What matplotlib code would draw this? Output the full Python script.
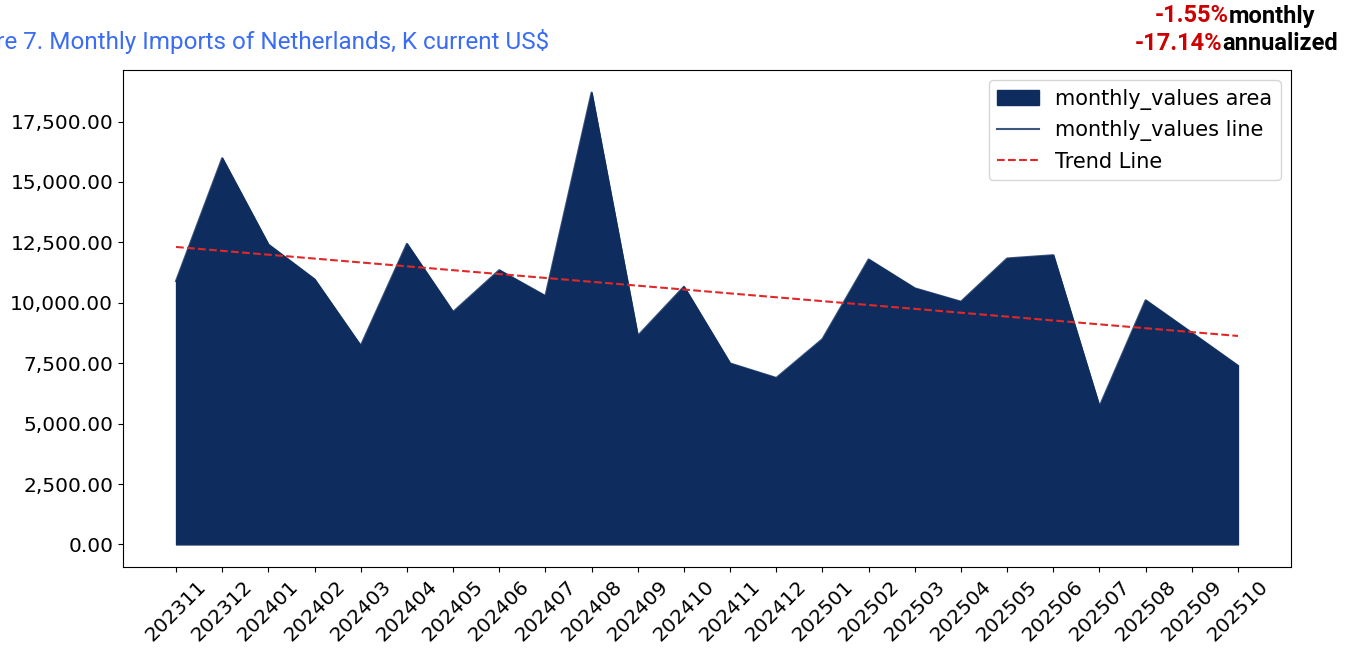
import numpy as np
import matplotlib.pyplot as plt

# ================================================    Data    ================================================
months = ["202311", "202312", "202401", "202402", "202403", "202404", "202405", "202406",
          "202407", "202408", "202409", "202410", "202411", "202412", "202501", "202502",
          "202503", "202504", "202505", "202506", "202507", "202508", "202509", "202510"]
monthly_values = [10900, 15985, 12410, 10970, 8220, 12440, 9620, 11350,
                  10280, 18700, 8630, 10665, 7490, 6890, 8495, 11795,
                  10600, 10045, 11835, 11970, 5705, 10105, 8755, 7395]
monthly_pct = "-1.55%"
annual_pct = "-17.14%"

# ================================================    Plot    ================================================
navy = "#0e2d5e"
x = np.arange(len(months))
slope, intercept = np.polyfit(x, monthly_values, 1)
trend = slope * x + intercept

fig = plt.figure(figsize=(13.57, 6.48), dpi=100)
ax = fig.add_axes([0.0906, 0.125, 0.8608, 0.767])

ax.fill_between(x, monthly_values, color=navy, label="monthly_values area")
ax.plot(x, monthly_values, color=navy, alpha=0.8, linewidth=1.5, label="monthly_values line")
ax.plot(x, trend, color="#e02828", linestyle="--", linewidth=1.5, label="Trend Line")

ax.set_xticks(x)
ax.set_xticklabels(months, rotation=45, fontsize=14.5)
ax.yaxis.set_major_formatter(plt.FuncFormatter(lambda v, p: f"{v:,.2f}"))
ax.tick_params(axis="y", labelsize=14.5)
ax.legend(loc="upper right", fontsize=15)

# title partly pushed off the left edge, as in the source
fig.text(549 / 1357, 1 - 42 / 648, "Figure 7. Monthly Imports of Netherlands, K current US$",
         ha="right", va="center", color="#3a6cf4", fontsize=17.5, family="Roboto")

# growth annotations
fig.text(1229 / 1357, 1 - 16 / 648, monthly_pct, ha="right", va="center",
         color="#cc0000", fontsize=17, fontweight="bold", family="Roboto")
fig.text(1229 / 1357, 1 - 16 / 648, "monthly", ha="left", va="center",
         color="black", fontsize=17, fontweight="bold", family="Roboto")
fig.text(1222 / 1357, 1 - 44 / 648, annual_pct, ha="right", va="center",
         color="#cc0000", fontsize=17, fontweight="bold", family="Roboto")
fig.text(1222 / 1357, 1 - 44 / 648, "annualized", ha="left", va="center",
         color="black", fontsize=17, fontweight="bold", family="Roboto")

fig.savefig("out.png", dpi=100)
